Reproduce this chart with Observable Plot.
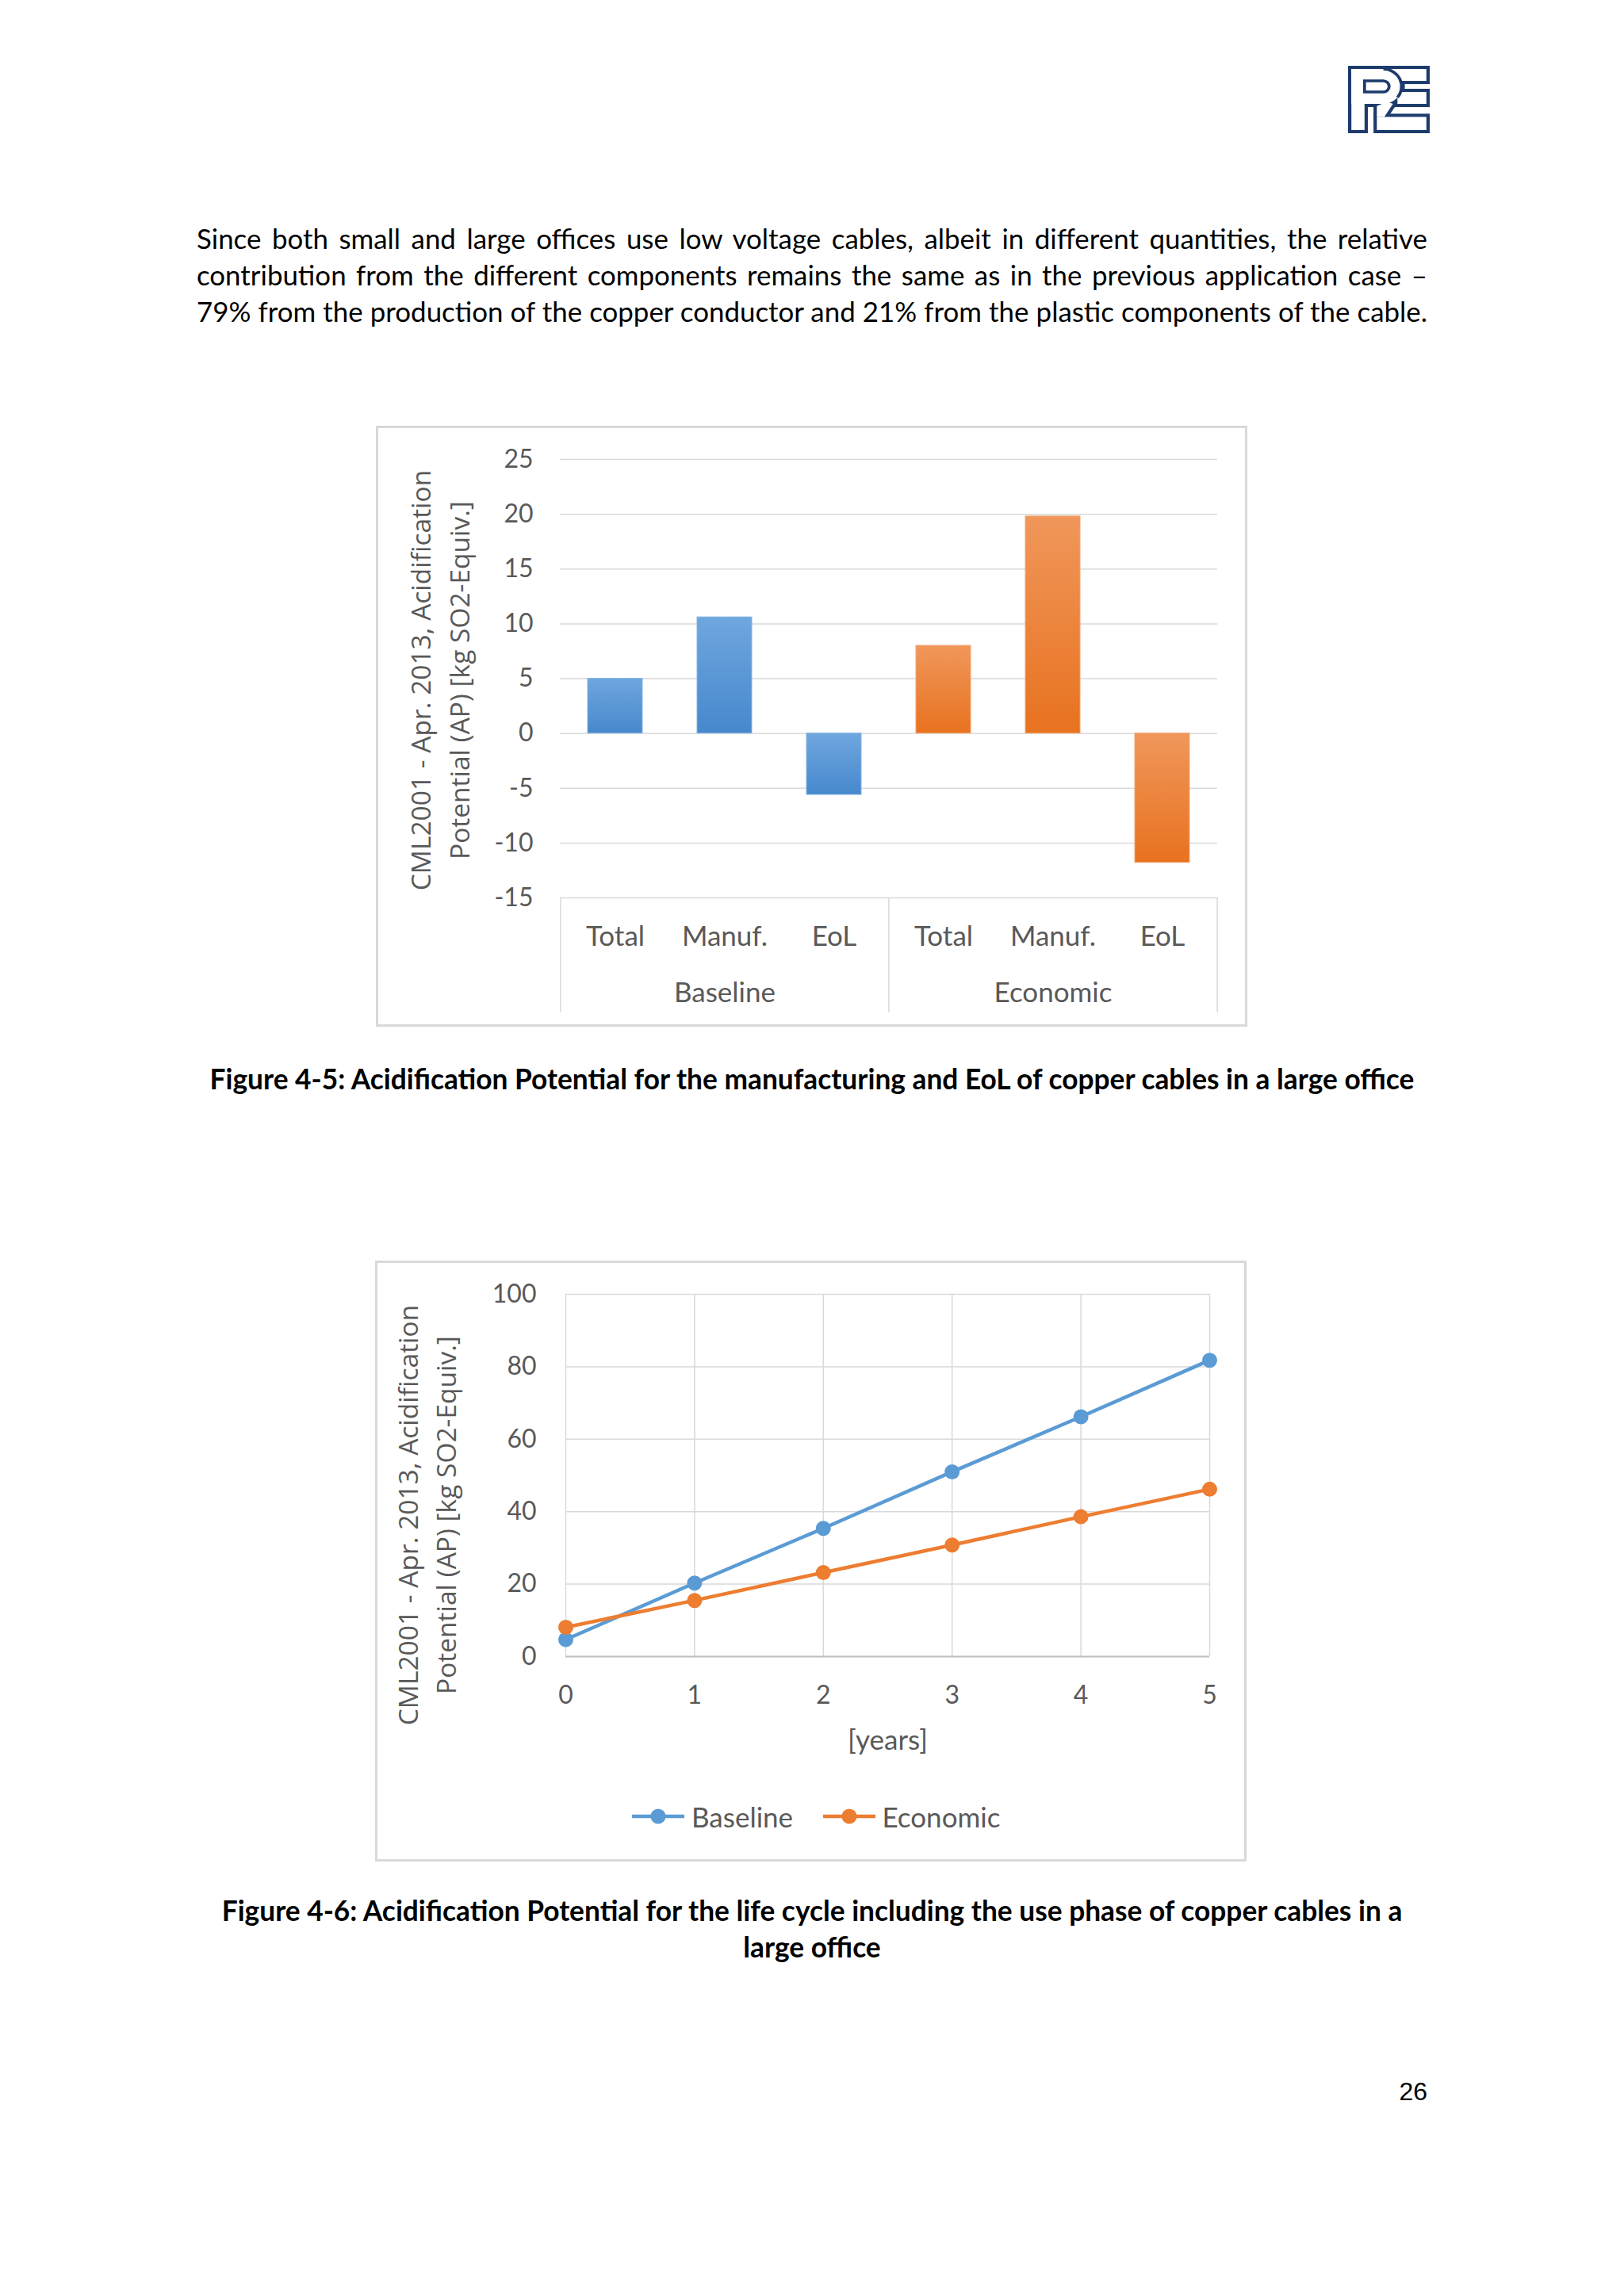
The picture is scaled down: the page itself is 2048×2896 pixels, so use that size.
<!DOCTYPE html>
<html><head><meta charset="utf-8">
<script src="https://cdn.jsdelivr.net/npm/d3@7"></script>
<script src="https://cdn.jsdelivr.net/npm/@observablehq/plot@0.6"></script>
<style>
html,body{margin:0;padding:0;background:#fff;}
#page{position:relative;width:2048px;height:2896px;overflow:hidden;background:#fff;color:#000;}
.abs{position:absolute;}
.bodyline{position:absolute;left:248px;width:1552px;white-space:nowrap;text-align:justify;text-align-last:justify;font-family:Lato,sans-serif;}
.cap{position:absolute;left:0;width:2048px;text-align:center;font-weight:bold;white-space:nowrap;font-family:Lato,sans-serif;}
.frame{position:absolute;border:3px solid #d9d9d9;box-sizing:border-box;pointer-events:none;}
.legend{position:absolute;font-family:Lato,sans-serif;font-size:35px;color:#595959;white-space:nowrap;}
</style></head><body><div id="page"></div>
<script>
// ---------- data ----------
const bodyLines = [
  "Since both small and large offices use low voltage cables, albeit in different quantities, the relative",
  "contribution from the different components remains the same as in the previous application case \u2013",
  "79% from the production of the copper conductor and 21% from the plastic components of the cable."
];
const caption1 = "Figure 4-5: Acidification Potential for the manufacturing and EoL of copper cables in a large office";
const caption2 = ["Figure 4-6: Acidification Potential for the life cycle including the use phase of copper cables in a", "large office"];
const pageNumber = "26";

const groups = ["Baseline", "Economic"];
const categories = ["Total", "Manuf.", "EoL"];
const baselineValues = [5.0, 10.6, -5.6];
const economicValues = [8.0, 19.8, -11.8];
const barTicks = [-15, -10, -5, 0, 5, 10, 15, 20, 25];
const yTitle = ["CML2001 - Apr. 2013, Acidification", "Potential (AP) [kg SO2-Equiv.]"];

const years = [0, 1, 2, 3, 4, 5];
const baselineAP = [4.7, 20.3, 35.4, 51.0, 66.2, 81.8];
const economicAP = [8.1, 15.5, 23.2, 30.8, 38.6, 46.2];
const lineTicks = [0, 20, 40, 60, 80, 100];
const seriesNames = ["Baseline", "Economic"];
const xLabel = "[years]";

// ---------- styles ----------
const TXT = "#595959", GRID = "#d9d9d9", BLUE = "#5b9bd5", ORANGE = "#ed7d31";
const page = document.getElementById("page");

// ---------- text helpers ----------
const cv = document.createElement("canvas").getContext("2d");
function measure(txt, font) { cv.font = font; return cv.measureText(txt).width; }
function placeText(el, baseline, fs, asc) {
  el.style.fontSize = fs + "px";
  el.style.lineHeight = "1.2";
  el.style.top = (baseline - asc * fs) + "px";
}

// body paragraph
let fsBody = 100 * 1552 / measure(bodyLines[2], "100px Lato");
bodyLines.forEach(l => { fsBody = Math.min(fsBody, 100 * 1552 / measure(l, "100px Lato") * 1.02); });
const bodyBase = [314, 360, 406];
bodyLines.forEach((l, i) => {
  const d = document.createElement("div");
  d.className = "bodyline"; d.textContent = l;
  placeText(d, bodyBase[i], fsBody, 0.987);
  page.appendChild(d);
});

// captions
const fsCap = 100 * 1524 / measure(caption1, "bold 100px Lato");
[[caption1, 1375], [caption2[0], 2424], [caption2[1], 2470]].forEach(([t, b]) => {
  const d = document.createElement("div");
  d.className = "cap"; d.textContent = t;
  placeText(d, b, fsCap, 0.987);
  page.appendChild(d);
});

// page number
{
  const d = document.createElement("div");
  d.className = "abs"; d.textContent = pageNumber;
  d.style.cssText += "left:1600px;width:200px;text-align:right;font-family:'Liberation Sans',Arial,sans-serif;";
  d.style.fontSize = "32px"; d.style.lineHeight = "1"; d.style.top = (2653 - 0.905 * 32 - 0.05 * 32) + "px";
  page.appendChild(d);
}

// logo
const logoShapes = `
    <rect x="0" y="0" width="101" height="16.7"/>
    <rect x="0" y="0" width="17.7" height="85.7"/>
    <path d="M0,0 H43 A24.5,24.5 0 0 1 43,49 H0 Z"/>
    <rect x="62" y="32.3" width="39" height="16.7"/>
    <path d="M34.3,52 L48,46 L56,49 L44.3,67.3 L34.3,67.3 Z"/>
    <rect x="34.3" y="67.3" width="66.7" height="18.4"/>`;
page.insertAdjacentHTML("beforeend", `
<svg class="abs" style="left:1700px;top:83px" width="103" height="85" viewBox="-4.5 -4.5 110 94.7" preserveAspectRatio="none">
  <g fill="#1d3c6c" stroke="#1d3c6c" stroke-width="9" stroke-linejoin="miter">${logoShapes}</g>
  <g fill="#fff">${logoShapes}</g>
  <g fill="none" stroke="#1d3c6c" stroke-width="4">
    <path d="M17.7,16.7 H43 A7.8,7.8 0 0 1 43,32.3 H17.7 Z"/>
    <path d="M43,0 A24.5,24.5 0 0 1 62,40" />
  </g>
</svg>`);

// ---------- chart 1: bars ----------
const bars = [];
groups.forEach((g, gi) => categories.forEach((c, ci) =>
  bars.push({group: g, cat: c, key: g + "|" + c, value: (gi === 0 ? baselineValues : economicValues)[ci]})));

const W1 = 1097, H1 = 756, ML1 = 231, MR1 = 37, MT1 = 41, MB1 = 162;
const halfStep1 = (W1 - ML1 - MR1) / bars.length / 2;
const plotH1 = H1 - MT1 - MB1;
const chart1 = Plot.plot({
  width: W1, height: H1,
  marginLeft: ML1, marginRight: MR1, marginTop: MT1, marginBottom: MB1,
  style: {fontFamily: "Lato, sans-serif", fontSize: "35px", background: "transparent", overflow: "visible", color: TXT},
  x: {type: "band", domain: bars.map(d => d.key), paddingInner: 0.5, paddingOuter: 0.25, axis: null},
  y: {domain: [-15, 25], axis: null},
  marks: [
    Plot.ruleY(barTicks, {stroke: GRID, strokeWidth: 1.5}),
    Plot.ruleX([bars[0].key, bars[3].key], {dx: -halfStep1, insetTop: plotH1, insetBottom: -145, stroke: GRID, strokeWidth: 1.5}),
    Plot.ruleX([bars[5].key], {dx: halfStep1, insetTop: plotH1, insetBottom: -145, stroke: GRID, strokeWidth: 1.5}),
    Plot.barY(bars.filter(d => d.group === groups[0]), {x: "key", y: "value", fill: "url(#gradBlue)", stroke: "#86b5e3", strokeWidth: 1}),
    Plot.barY(bars.filter(d => d.group === groups[1]), {x: "key", y: "value", fill: "url(#gradOrange)", stroke: "#f3a571", strokeWidth: 1}),
    Plot.text(barTicks, {y: d => d, text: d => String(d), frameAnchor: "left", dx: -34, textAnchor: "end", fontSize: 32, fill: TXT}),
    Plot.text(bars, {x: "key", text: "cat", frameAnchor: "bottom", lineAnchor: "middle", dy: 49, fill: TXT}),
    Plot.text(groups, {x: g => g + "|" + categories[1], text: g => g, frameAnchor: "bottom", lineAnchor: "middle", dy: 120, fill: TXT}),
    Plot.text([yTitle.join("\n")], {text: d => d, frameAnchor: "left", textAnchor: "middle", lineAnchor: "middle", rotate: -90, dx: -155, dy: 2, fontFamily: "Open Sans, sans-serif", fontSize: 33.5, lineHeight: 1.48, fill: TXT})
  ]
});
{
  const defs = d3.select(chart1).insert("defs", ":first-child");
  const g1 = defs.append("linearGradient").attr("id", "gradBlue").attr("x1", 0).attr("y1", 0).attr("x2", 0).attr("y2", 1);
  g1.append("stop").attr("offset", 0).attr("stop-color", "#6fa6de");
  g1.append("stop").attr("offset", 1).attr("stop-color", "#4688cd");
  const g2 = defs.append("linearGradient").attr("id", "gradOrange").attr("x1", 0).attr("y1", 0).attr("x2", 0).attr("y2", 1);
  g2.append("stop").attr("offset", 0).attr("stop-color", "#f0975b");
  g2.append("stop").attr("offset", 1).attr("stop-color", "#e8721f");
}
chart1.style.position = "absolute"; chart1.style.left = "475px"; chart1.style.top = "538px";
page.appendChild(chart1);
page.insertAdjacentHTML("beforeend", `<div class="frame" style="left:474px;top:537px;width:1099px;height:758px"></div>`);

// ---------- chart 2: lines ----------
const rows = years.map((y, i) => ({year: y, baseline: baselineAP[i], economic: economicAP[i]}));
const W2 = 1097, H2 = 756, ML2 = 239, MR2 = 46, MT2 = 41, MB2 = 258;
const chart2 = Plot.plot({
  width: W2, height: H2,
  marginLeft: ML2, marginRight: MR2, marginTop: MT2, marginBottom: MB2,
  style: {fontFamily: "Lato, sans-serif", fontSize: "35px", background: "transparent", overflow: "visible", color: TXT},
  x: {domain: [0, 5], axis: null},
  y: {domain: [0, 100], axis: null},
  marks: [
    Plot.ruleX(years, {stroke: GRID, strokeWidth: 1.5}),
    Plot.ruleY(lineTicks, {stroke: GRID, strokeWidth: 1.5}),
    Plot.ruleY([0], {stroke: "#bfbfbf", strokeWidth: 2}),
    Plot.line(rows, {x: "year", y: "baseline", stroke: BLUE, strokeWidth: 4.5}),
    Plot.dot(rows, {x: "year", y: "baseline", r: 9.5, fill: BLUE, stroke: "none"}),
    Plot.line(rows, {x: "year", y: "economic", stroke: ORANGE, strokeWidth: 4.5}),
    Plot.dot(rows, {x: "year", y: "economic", r: 9.5, fill: ORANGE, stroke: "none"}),
    Plot.text(lineTicks, {y: d => d, text: d => String(d), frameAnchor: "left", dx: -37, textAnchor: "end", fontSize: 32, fill: TXT}),
    Plot.text(years, {x: d => d, text: d => String(d), frameAnchor: "bottom", lineAnchor: "middle", dy: 49, fontSize: 32, fill: TXT}),
    Plot.text([xLabel], {text: d => d, frameAnchor: "bottom", lineAnchor: "middle", dy: 106, fill: TXT}),
    Plot.text([yTitle.join("\n")], {text: d => d, frameAnchor: "left", textAnchor: "middle", lineAnchor: "middle", rotate: -90, dx: -178, dy: 50, fontFamily: "Open Sans, sans-serif", fontSize: 33.5, lineHeight: 1.42, fill: TXT})
  ]
});
chart2.style.position = "absolute"; chart2.style.left = "474px"; chart2.style.top = "1591px";
page.appendChild(chart2);
page.insertAdjacentHTML("beforeend", `<div class="frame" style="left:473px;top:1590px;width:1099px;height:758px"></div>`);

// legend for chart 2
[[seriesNames[0], BLUE, 797], [seriesNames[1], ORANGE, 1037.5]].forEach(([name, col, x]) => {
  const d = document.createElement("div");
  d.className = "legend";
  d.style.left = x + "px"; d.style.top = (2291 - 20) + "px"; d.style.height = "40px"; d.style.lineHeight = "40px";
  d.innerHTML = `<svg width="66" height="40" style="vertical-align:top"><line x1="0" x2="66" y1="20" y2="20" stroke="${col}" stroke-width="4.5"/><circle cx="33" cy="20" r="9.5" fill="${col}"/></svg><span style="margin-left:9px;vertical-align:top"></span>`;
  d.querySelector("span").textContent = name;
  page.appendChild(d);
});
</script>
</body></html>
